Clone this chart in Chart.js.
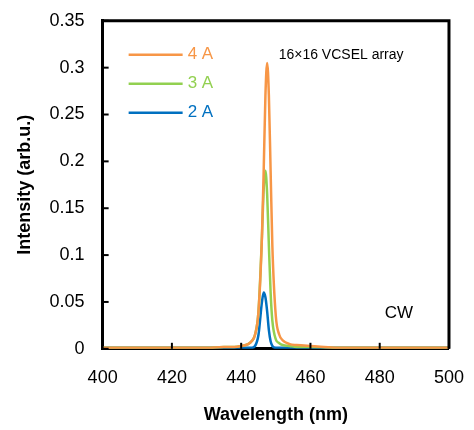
<!DOCTYPE html>
<html>
<head>
<script src="https://cdn.jsdelivr.net/npm/chart.js@4"></script>
<style>
body { margin: 0; background: #fff; }
#wrap { width: 474px; height: 430px; }
</style>
</head>
<body>
<div id="wrap"><canvas id="myChart"></canvas></div>
<script>
// wavelength (nm)
const wavelengths = [400, 410, 420, 430, 435, 438, 440, 442, 443, 444, 445, 446, 446.5, 447, 447.5, 448, 448.5, 449, 450, 451, 452, 454, 456, 460, 470, 480, 490, 500];
// intensity per drive current
const i4A = [0.001, 0.001, 0.001, 0.001, 0.002, 0.002, 0.003, 0.005, 0.008, 0.015, 0.04, 0.12, 0.19, 0.27, 0.305, 0.27, 0.19, 0.11, 0.035, 0.015, 0.009, 0.005, 0.004, 0.003, 0.001, 0.001, 0.001, 0.001];
const i3A = [0.001, 0.001, 0.001, 0.001, 0.002, 0.002, 0.003, 0.005, 0.008, 0.015, 0.04, 0.12, 0.17, 0.19, 0.165, 0.11, 0.06, 0.03, 0.01, 0.006, 0.004, 0.003, 0.002, 0.002, 0.001, 0.001, 0.001, 0.001];
const i2A = [0.001, 0.001, 0.001, 0.001, 0.001, 0.001, 0.001, 0.001, 0.001, 0.003, 0.015, 0.05, 0.06, 0.055, 0.04, 0.02, 0.008, 0.003, 0.001, 0.001, 0.001, 0.001, 0.001, 0.001, 0.001, 0.001, 0.001, 0.001];
const seriesLabels = ['4 A', '3 A', '2 A'];
const xTicks = [400, 420, 440, 460, 480, 500];
const yTicks = [0, 0.05, 0.1, 0.15, 0.2, 0.25, 0.3, 0.35];

const colors = ['#f79646', '#92d050', '#0070c0'];
const toPts = arr => wavelengths.map((w, i) => ({ x: w, y: arr[i] }));

const overlay = {
  id: 'overlay',
  afterDraw(chart) {
    const { ctx, chartArea: a, scales: { x, y } } = chart;
    ctx.save();
    ctx.strokeStyle = '#000';
    ctx.lineWidth = 3;
    // top and right frame
    ctx.beginPath(); ctx.moveTo(a.left, a.top); ctx.lineTo(a.right, a.top); ctx.lineTo(a.right, a.bottom); ctx.stroke();
    // inward ticks
    ctx.lineWidth = 2;
    xTicks.forEach(v => {
      const px = x.getPixelForValue(v);
      ctx.beginPath(); ctx.moveTo(px, a.bottom); ctx.lineTo(px, a.bottom - 6); ctx.stroke();
    });
    yTicks.forEach(v => {
      const py = y.getPixelForValue(v);
      ctx.beginPath(); ctx.moveTo(a.left, py); ctx.lineTo(a.left + 6, py); ctx.stroke();
    });
    // legend
    ctx.font = '17px "Liberation Sans", Arial, sans-serif';
    ctx.textBaseline = 'middle';
    seriesLabels.forEach((lab, i) => {
      const yy = a.top + 34 + i * 29;
      ctx.strokeStyle = colors[i];
      ctx.lineWidth = 2.5;
      ctx.beginPath(); ctx.moveTo(a.left + 26, yy); ctx.lineTo(a.left + 80, yy); ctx.stroke();
      ctx.fillStyle = colors[i];
      ctx.fillText(lab, a.left + 85, yy);
    });
    ctx.fillStyle = '#000';
    ctx.font = '14px "Liberation Sans", Arial, sans-serif';
    ctx.fillText('16\u00d716 VCSEL array', a.left + 176, a.top + 34);
    ctx.font = '17px "Liberation Sans", Arial, sans-serif';
    ctx.fillText('CW', a.left + 282, a.top + 293);
    ctx.restore();
  }
};

new Chart(document.getElementById('myChart'), {
  type: 'line',
  data: {
    datasets: [
      { label: seriesLabels[0], data: toPts(i4A), borderColor: colors[0] },
      { label: seriesLabels[1], data: toPts(i3A), borderColor: colors[1] },
      { label: seriesLabels[2], data: toPts(i2A), borderColor: colors[2] }
    ]
  },
  options: {
    responsive: true,
    maintainAspectRatio: false,
    animation: false,
    elements: { point: { radius: 0 }, line: { borderWidth: 2.5, tension: 0.4, cubicInterpolationMode: 'monotone' } },
    layout: { padding: { top: 4, right: 17, left: 10, bottom: 0 } },
    plugins: { legend: { display: false }, tooltip: { enabled: false } },
    scales: {
      x: {
        type: 'linear', min: 400, max: 500,
        afterBuildTicks: s => { s.ticks = xTicks.map(v => ({ value: v })); },
        grid: { display: false },
        border: { display: true, color: '#000', width: 3 },
        ticks: { color: '#000', font: { size: 18, family: '"Liberation Sans", Arial' }, maxRotation: 0, padding: 10 },
        title: { display: true, text: 'Wavelength (nm)', color: '#000', font: { size: 18, weight: 'bold', family: '"Liberation Sans", Arial' }, padding: { top: 6, bottom: 4 } }
      },
      y: {
        min: 0, max: 0.35,
        afterBuildTicks: s => { s.ticks = yTicks.map(v => ({ value: v })); },
        grid: { display: false },
        border: { display: true, color: '#000', width: 3 },
        ticks: { color: '#000', font: { size: 18, family: '"Liberation Sans", Arial' }, padding: 10, callback: v => String(+v.toFixed(2)) },
        title: { display: true, text: 'Intensity (arb.u.)', color: '#000', font: { size: 18, weight: 'bold', family: '"Liberation Sans", Arial' } }
      }
    }
  },
  plugins: [overlay]
});
</script>
</body>
</html>
